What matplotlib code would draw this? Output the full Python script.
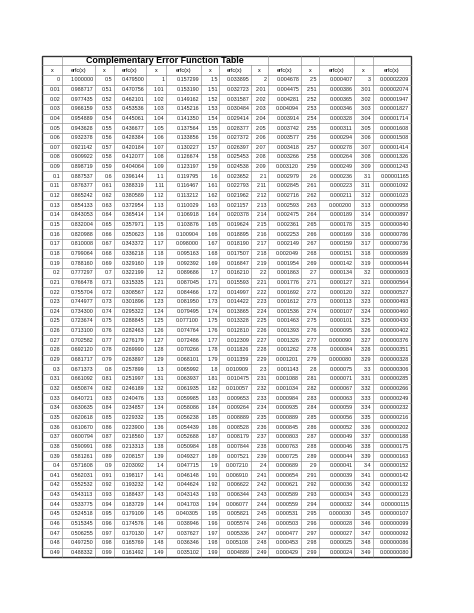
import matplotlib
matplotlib.use("Agg")
import matplotlib.pyplot as plt

title = "Complementary Error Function Table"

x_cols = [
    "0 0.01 0.02 0.03 0.04 0.05 0.06 0.07 0.08 0.09 0.1 0.11 0.12 0.13 0.14 0.15 0.16 0.17 0.18 0.19 0.2 0.21 0.22 0.23 0.24 0.25 0.26 0.27 0.28 0.29 0.3 0.31 0.32 0.33 0.34 0.35 0.36 0.37 0.38 0.39 0.4 0.41 0.42 0.43 0.44 0.45 0.46 0.47 0.48 0.49",
    "0.5 0.51 0.52 0.53 0.54 0.55 0.56 0.57 0.58 0.59 0.6 0.61 0.62 0.63 0.64 0.65 0.66 0.67 0.68 0.69 0.7 0.71 0.72 0.73 0.74 0.75 0.76 0.77 0.78 0.79 0.8 0.81 0.82 0.83 0.84 0.85 0.86 0.87 0.88 0.89 0.9 0.91 0.92 0.93 0.94 0.95 0.96 0.97 0.98 0.99",
    "1 1.01 1.02 1.03 1.04 1.05 1.06 1.07 1.08 1.09 1.1 1.11 1.12 1.13 1.14 1.15 1.16 1.17 1.18 1.19 1.2 1.21 1.22 1.23 1.24 1.25 1.26 1.27 1.28 1.29 1.3 1.31 1.32 1.33 1.34 1.35 1.36 1.37 1.38 1.39 1.4 1.41 1.42 1.43 1.44 1.45 1.46 1.47 1.48 1.49",
    "1.5 1.51 1.52 1.53 1.54 1.55 1.56 1.57 1.58 1.59 1.6 1.61 1.62 1.63 1.64 1.65 1.66 1.67 1.68 1.69 1.7 1.71 1.72 1.73 1.74 1.75 1.76 1.77 1.78 1.79 1.8 1.81 1.82 1.83 1.84 1.85 1.86 1.87 1.88 1.89 1.9 1.91 1.92 1.93 1.94 1.95 1.96 1.97 1.98 1.99",
    "2 2.01 2.02 2.03 2.04 2.05 2.06 2.07 2.08 2.09 2.1 2.11 2.12 2.13 2.14 2.15 2.16 2.17 2.18 2.19 2.2 2.21 2.22 2.23 2.24 2.25 2.26 2.27 2.28 2.29 2.3 2.31 2.32 2.33 2.34 2.35 2.36 2.37 2.38 2.39 2.4 2.41 2.42 2.43 2.44 2.45 2.46 2.47 2.48 2.49",
    "2.5 2.51 2.52 2.53 2.54 2.55 2.56 2.57 2.58 2.59 2.6 2.61 2.62 2.63 2.64 2.65 2.66 2.67 2.68 2.69 2.7 2.71 2.72 2.73 2.74 2.75 2.76 2.77 2.78 2.79 2.8 2.81 2.82 2.83 2.84 2.85 2.86 2.87 2.88 2.89 2.9 2.91 2.92 2.93 2.94 2.95 2.96 2.97 2.98 2.99",
    "3 3.01 3.02 3.03 3.04 3.05 3.06 3.07 3.08 3.09 3.1 3.11 3.12 3.13 3.14 3.15 3.16 3.17 3.18 3.19 3.2 3.21 3.22 3.23 3.24 3.25 3.26 3.27 3.28 3.29 3.3 3.31 3.32 3.33 3.34 3.35 3.36 3.37 3.38 3.39 3.4 3.41 3.42 3.43 3.44 3.45 3.46 3.47 3.48 3.49",
]

erfc_cols = [
    """1.000000 0.988717 0.977435 0.966159 0.954889 0.943628 0.932378 0.921142 0.909922 0.898719
    0.887537 0.876377 0.865242 0.854133 0.843053 0.832004 0.820988 0.810008 0.799064 0.788160
    0.777297 0.766478 0.755704 0.744977 0.734300 0.723674 0.713100 0.702582 0.692120 0.681717
    0.671373 0.661092 0.650874 0.640721 0.630635 0.620618 0.610670 0.600794 0.590991 0.581261
    0.571608 0.562031 0.552532 0.543113 0.533775 0.524518 0.515345 0.506255 0.497250 0.488332""",
    """0.479500 0.470756 0.462101 0.453536 0.445061 0.436677 0.428384 0.420184 0.412077 0.404064
    0.396144 0.388319 0.380589 0.372954 0.365414 0.357971 0.350623 0.343372 0.336218 0.329160
    0.322199 0.315335 0.308567 0.301896 0.295322 0.288845 0.282463 0.276179 0.269990 0.263897
    0.257899 0.251997 0.246189 0.240476 0.234857 0.229332 0.223900 0.218560 0.213313 0.208157
    0.203092 0.198117 0.193232 0.188437 0.183729 0.179109 0.174576 0.170130 0.165769 0.161492""",
    """0.157299 0.153190 0.149162 0.145216 0.141350 0.137564 0.133856 0.130227 0.126674 0.123197
    0.119795 0.116467 0.113212 0.110029 0.106918 0.103876 0.100904 0.098000 0.095163 0.092392
    0.089686 0.087045 0.084466 0.081950 0.079495 0.077100 0.074764 0.072486 0.070266 0.068101
    0.065992 0.063937 0.061935 0.059985 0.058086 0.056238 0.054439 0.052688 0.050984 0.049327
    0.047715 0.046148 0.044624 0.043143 0.041703 0.040305 0.038946 0.037627 0.036346 0.035102""",
    """0.033895 0.032723 0.031587 0.030484 0.029414 0.028377 0.027372 0.026397 0.025453 0.024538
    0.023652 0.022793 0.021962 0.021157 0.020378 0.019624 0.018895 0.018190 0.017507 0.016847
    0.016210 0.015593 0.014997 0.014422 0.013865 0.013328 0.012810 0.012309 0.011826 0.011359
    0.010909 0.010475 0.010057 0.009653 0.009264 0.008889 0.008528 0.008179 0.007844 0.007521
    0.007210 0.006910 0.006622 0.006344 0.006077 0.005821 0.005574 0.005336 0.005108 0.004889""",
    """0.004678 0.004475 0.004281 0.004094 0.003914 0.003742 0.003577 0.003418 0.003266 0.003120
    0.002979 0.002845 0.002716 0.002593 0.002475 0.002361 0.002253 0.002149 0.002049 0.001954
    0.001863 0.001776 0.001692 0.001612 0.001536 0.001463 0.001393 0.001326 0.001262 0.001201
    0.001143 0.001088 0.001034 0.000984 0.000935 0.000889 0.000845 0.000803 0.000763 0.000725
    0.000689 0.000654 0.000621 0.000589 0.000559 0.000531 0.000503 0.000477 0.000453 0.000429""",
    """0.000407 0.000386 0.000365 0.000346 0.000328 0.000311 0.000294 0.000278 0.000264 0.000249
    0.000236 0.000223 0.000211 0.000200 0.000189 0.000178 0.000169 0.000159 0.000151 0.000142
    0.000134 0.000127 0.000120 0.000113 0.000107 0.000101 0.000095 0.000090 0.000084 0.000080
    0.000075 0.000071 0.000067 0.000063 0.000059 0.000056 0.000052 0.000049 0.000046 0.000044
    0.000041 0.000039 0.000036 0.000034 0.000032 0.000030 0.000028 0.000027 0.000025 0.000024""",
    """0.00002209 0.00002074 0.00001947 0.00001827 0.00001714 0.00001608 0.00001508 0.00001414 0.00001326 0.00001243
    0.00001165 0.00001092 0.00001023 0.00000958 0.00000897 0.00000840 0.00000786 0.00000736 0.00000689 0.00000644
    0.00000603 0.00000564 0.00000527 0.00000493 0.00000460 0.00000430 0.00000402 0.00000376 0.00000351 0.00000328
    0.00000306 0.00000285 0.00000266 0.00000249 0.00000232 0.00000216 0.00000202 0.00000188 0.00000175 0.00000163
    0.00000152 0.00000142 0.00000132 0.00000123 0.00000115 0.00000107 0.00000099 0.00000092 0.00000086 0.00000080""",
]

# layout in pixels
col_edges = [42.3, 61.7, 95, 114, 146, 165.7, 200.7, 219.3, 250.7, 268.3,
             300.7, 319, 354, 372.7, 410.7]
top, bottom = 55.7, 557.3
n_rows = 52
rh = (bottom - top) / n_rows

plt.rcParams["font.family"] = ["Liberation Sans", "DejaVu Sans"]

fig = plt.figure(figsize=(4.74, 6.13), dpi=100)
ax = fig.add_axes([0, 0, 1, 1])
ax.set_xlim(0, 474)
ax.set_ylim(613, 0)
ax.axis("off")

grid_col = "#8a8a8a"
fs = 3.9

# horizontal lines
for r in range(1, n_rows):
    y = top + r * rh
    ax.plot([col_edges[0], col_edges[-1]], [y, y], color=grid_col, lw=0.45)
# vertical lines (title row merged over cols 1..9)
for i, xe in enumerate(col_edges[1:-1], start=1):
    y0 = top if i in (1, 9, 10, 11, 12, 13) else top + rh
    ax.plot([xe, xe], [y0, bottom], color=grid_col, lw=0.45)
ax.add_patch(plt.Rectangle((col_edges[0], top), col_edges[-1] - col_edges[0],
                           bottom - top, fill=False, ec="#333333", lw=1.0))

ax.text((col_edges[1] + col_edges[9]) / 2, top + rh / 2 + 0.3, title,
        ha="center", va="center", fontsize=6.4, fontweight="bold")

for c in range(7):
    xl, xm, xr = col_edges[2 * c], col_edges[2 * c + 1], col_edges[2 * c + 2]
    yh = top + 1.5 * rh
    ax.text((xl + xm) / 2, yh, "x", ha="center", va="center", fontsize=fs)
    ax.text((xm + xr) / 2, yh, "erfc(x)", ha="center", va="center", fontsize=fs)
    xs = x_cols[c].split()
    vals = erfc_cols[c].split()
    for r, (xv, ev) in enumerate(zip(xs, vals)):
        y = top + (r + 2.5) * rh
        ax.text(xm - 1.5, y, xv, ha="right", va="center", fontsize=fs, color="#222222")
        ax.text(xr - 1.5, y, ev, ha="right", va="center", fontsize=fs, color="#222222")

fig.savefig("out.png", dpi=100, facecolor="white")
